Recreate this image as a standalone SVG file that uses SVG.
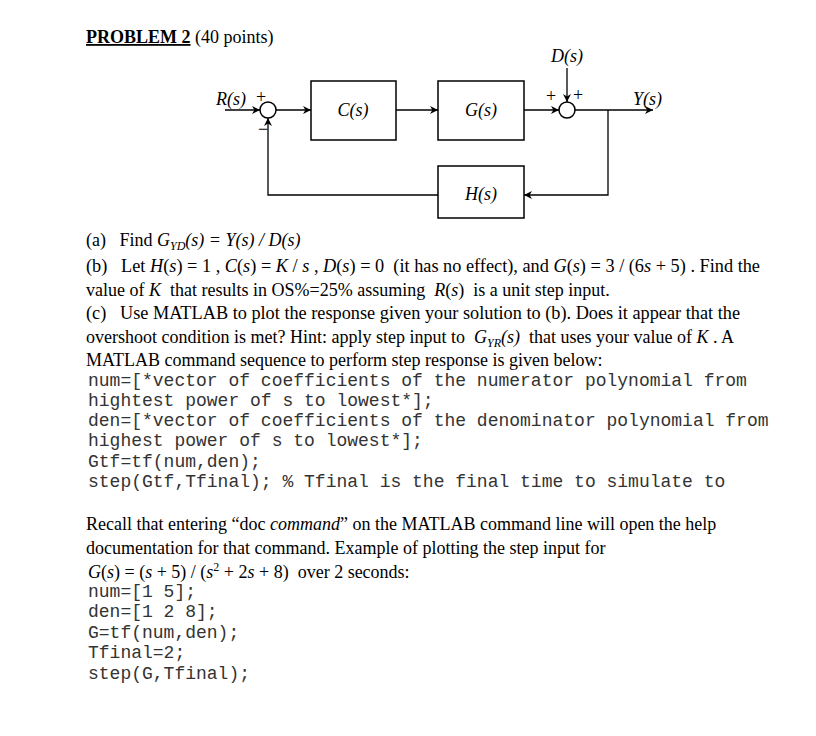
<svg xmlns="http://www.w3.org/2000/svg" width="816" height="736" viewBox="0 0 816 736">
<style>
.s{font-family:"Liberation Serif",serif;font-size:18px;fill:#000}
.i{font-style:italic}
.m{font-family:"Liberation Mono",monospace;font-size:18px;fill:#333}
.b{fill:#fff;stroke:#000;stroke-width:1.5}
.w{fill:none;stroke:#000;stroke-width:1.3}
</style>
<defs><marker id="a" viewBox="0 0 10 10" refX="10" refY="5" markerWidth="8" markerHeight="8" orient="auto" markerUnits="userSpaceOnUse"><path d="M0,0 L10,5 L0,10 L3,5z" fill="#000"/></marker></defs>
<rect width="816" height="736" fill="#fff"/>
<text class="s" x="86" y="43"><tspan font-weight="bold" text-decoration="underline">PROBLEM 2</tspan> (40 points)</text>
<g id="connectors">
<path class="w" d="M225,110 H260" marker-end="url(#a)"/>
<path class="w" d="M276,110 H311" marker-end="url(#a)"/>
<path class="w" d="M396,110 H438" marker-end="url(#a)"/>
<path class="w" d="M524,110 H559" marker-end="url(#a)"/>
<path class="w" d="M567,68 V102" marker-end="url(#a)"/>
<path class="w" d="M575,110 H653" marker-end="url(#a)"/>
<path class="w" d="M608,110 V195 H524" marker-end="url(#a)"/>
<path class="w" d="M438,195 H268 V118" marker-end="url(#a)"/>
</g>
<g id="sum1"><circle class="b" cx="268" cy="110" r="8"/><text class="s" x="256" y="103" font-size="15">+</text><text class="s" x="258" y="135">−</text></g>
<g id="C"><rect class="b" x="311" y="81" width="85" height="59"/><text class="s i" x="353" y="116" text-anchor="middle">C(s)</text></g>
<g id="G"><rect class="b" x="438" y="81" width="86" height="59"/><text class="s i" x="481" y="116" text-anchor="middle">G(s)</text></g>
<g id="sum2"><circle class="b" cx="567" cy="110" r="8"/><text class="s" x="546" y="102" font-size="15">+</text><text class="s" x="573" y="101" font-size="15">+</text></g>
<g id="H"><rect class="b" x="438" y="166" width="86" height="52"/><text class="s i" x="481" y="200" text-anchor="middle">H(s)</text></g>
<text class="s i" x="216" y="105">R(s)</text>
<text class="s i" x="567" y="62" text-anchor="middle">D(s)</text>
<text class="s i" x="633" y="105">Y(s)</text>
<text class="s" x="86" y="246" xml:space="preserve">(a)   Find <tspan class="i">G<tspan font-size="12" dy="4">YD</tspan><tspan dy="-4">(s) = Y(s) / D(s)</tspan></tspan></text>
<text class="s" x="86" y="272" textLength="674" lengthAdjust="spacingAndGlyphs" xml:space="preserve">(b)   Let <tspan class="i">H</tspan>(<tspan class="i">s</tspan>) = 1 , <tspan class="i">C</tspan>(<tspan class="i">s</tspan>) = <tspan class="i">K</tspan> / <tspan class="i">s</tspan> , <tspan class="i">D</tspan>(<tspan class="i">s</tspan>) = 0  (it has no effect), and <tspan class="i">G</tspan>(<tspan class="i">s</tspan>) = 3 / (6<tspan class="i">s</tspan> + 5) . Find the</text>
<text class="s" x="86" y="296" xml:space="preserve">value of <tspan class="i">K</tspan>  that results in OS%=25% assuming  <tspan class="i">R</tspan>(<tspan class="i">s</tspan>)  is a unit step input.</text>
<text class="s" x="86" y="319" textLength="654" lengthAdjust="spacingAndGlyphs" xml:space="preserve">(c)   Use MATLAB to plot the response given your solution to (b). Does it appear that the</text>
<text class="s" x="86" y="343" xml:space="preserve">overshoot condition is met? Hint: apply step input to  <tspan class="i">G<tspan font-size="12" dy="4">YR</tspan><tspan dy="-4">(s)</tspan></tspan>  that uses your value of <tspan class="i">K</tspan> . A</text>
<text class="s" x="86" y="366">MATLAB command sequence to perform step response is given below:</text>
<text class="m" x="88" y="386" xml:space="preserve">num=[*vector of coefficients of the numerator polynomial from</text>
<text class="m" x="88" y="406" xml:space="preserve">hightest power of s to lowest*];</text>
<text class="m" x="88" y="426" xml:space="preserve">den=[*vector of coefficients of the denominator polynomial from</text>
<text class="m" x="88" y="446" xml:space="preserve">highest power of s to lowest*];</text>
<text class="m" x="88" y="467" xml:space="preserve">Gtf=tf(num,den);</text>
<text class="m" x="88" y="487" xml:space="preserve">step(Gtf,Tfinal); % Tfinal is the final time to simulate to</text>
<text class="s" x="86" y="530">Recall that entering “doc <tspan class="i">command</tspan>” on the MATLAB command line will open the help</text>
<text class="s" x="86" y="554">documentation for that command. Example of plotting the step input for</text>
<text class="s" x="88" y="578" xml:space="preserve"><tspan class="i">G</tspan>(<tspan class="i">s</tspan>) = (<tspan class="i">s</tspan> + 5) / (<tspan class="i">s</tspan><tspan font-size="12" dy="-7">2</tspan><tspan dy="7"> + 2<tspan class="i">s</tspan> + 8)  over 2 seconds:</tspan></text>
<text class="m" x="88" y="597">num=[1 5];</text>
<text class="m" x="88" y="617">den=[1 2 8];</text>
<text class="m" x="88" y="638">G=tf(num,den);</text>
<text class="m" x="88" y="658">Tfinal=2;</text>
<text class="m" x="88" y="679">step(G,Tfinal);</text>
</svg>
